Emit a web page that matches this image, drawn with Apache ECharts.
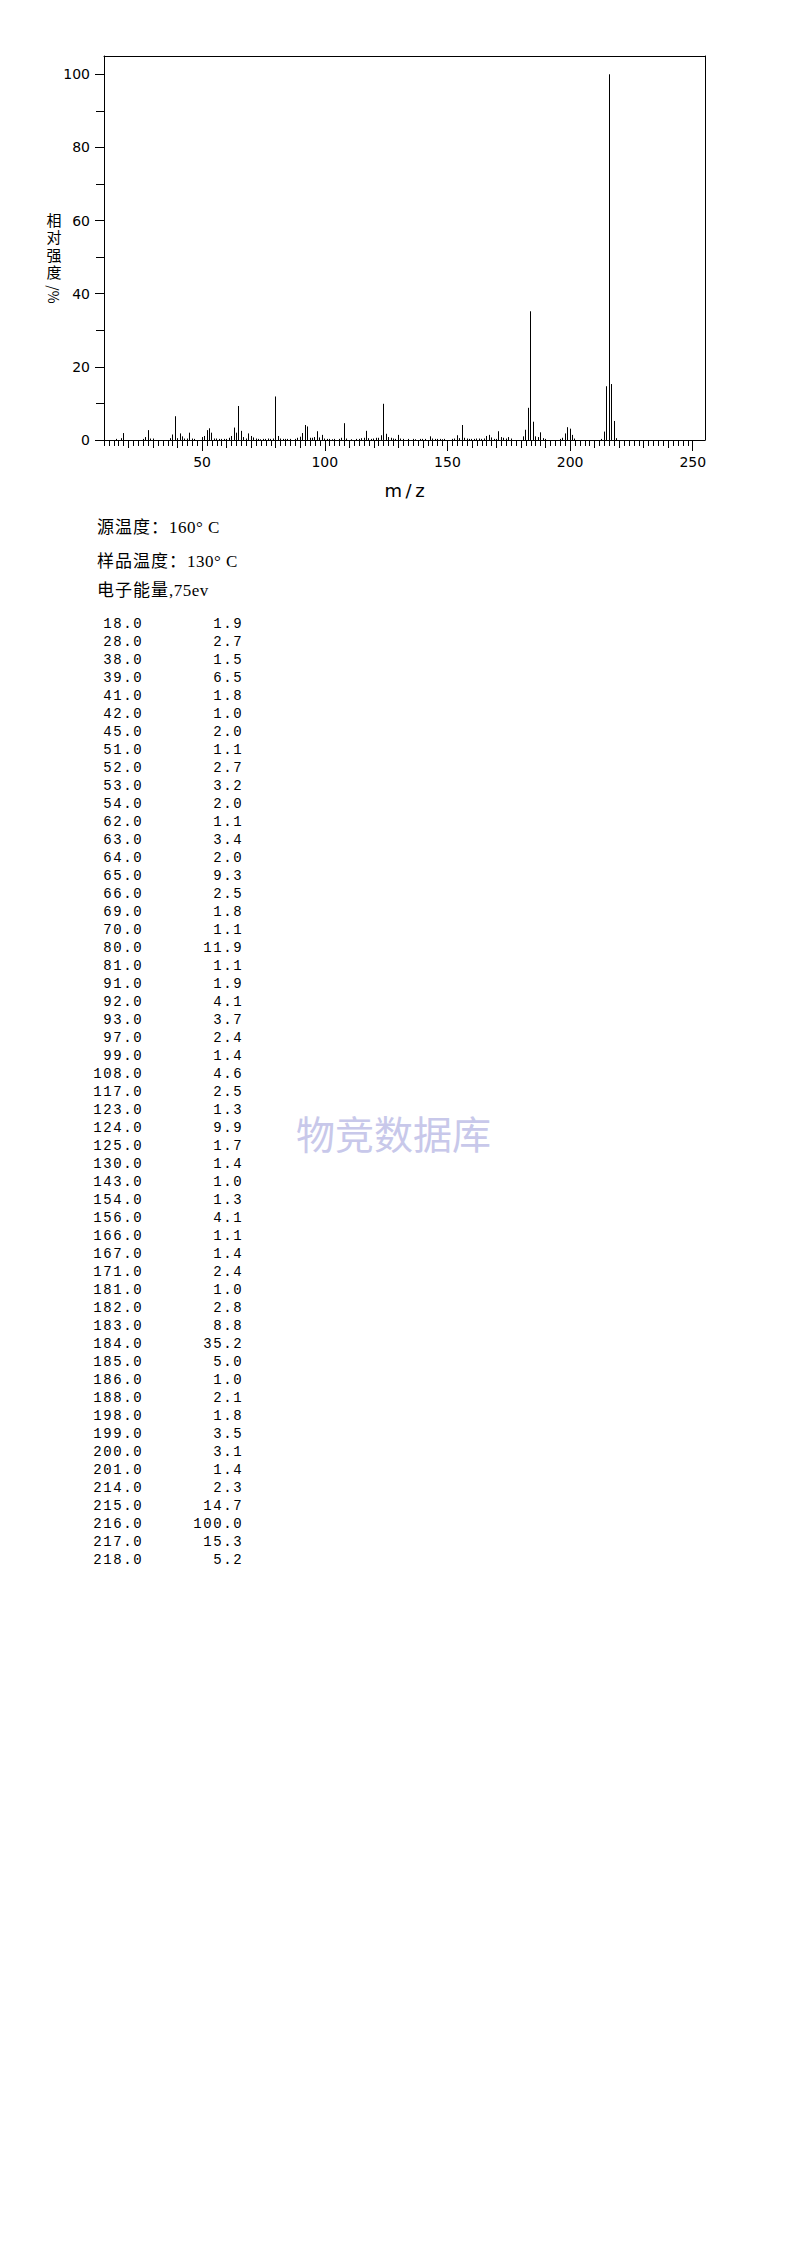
<!DOCTYPE html>
<html>
<head>
<meta charset="utf-8">
<script src="https://cdn.jsdelivr.net/npm/echarts@6/dist/echarts.min.js"></script>
<style>
html,body{margin:0;padding:0;background:#fff;}
body{width:794px;height:2268px;position:relative;overflow:hidden;}
#chart{position:absolute;left:0;top:0;width:794px;height:520px;}
.hdr{position:absolute;left:97px;font-family:"Noto Sans CJK SC";font-size:17px;line-height:20px;letter-spacing:1px;color:#000;white-space:nowrap;}
.hdr .l{font-family:"Liberation Serif";letter-spacing:0.5px;}
.cell{position:absolute;font-family:"Liberation Mono";font-size:14px;line-height:18px;letter-spacing:1.6px;text-align:right;color:#000;white-space:pre;width:80px;}
#wm{position:absolute;left:296px;top:1113px;font-family:"Noto Sans CJK SC";font-size:39px;line-height:39px;color:#c8c8ea;white-space:nowrap;}
</style>
</head>
<body>
<div id="chart"></div>
<div class="hdr" style="top:516px">源温度：<span class="l">160° C</span></div>
<div class="hdr" style="top:550px">样品温度：<span class="l">130° C</span></div>
<div class="hdr" style="top:579px">电子能量<span class="l">,75ev</span></div>
<div id="table"></div>
<div id="wm">物竞数据库</div>
<script>
// Listed peaks (m/z, relative intensity %)
var tableMz = [18,28,38,39,41,42,45,51,52,53,54,62,63,64,65,66,69,70,80,81,91,92,93,97,99,108,117,123,124,125,130,143,154,156,166,167,171,181,182,183,184,185,186,188,198,199,200,201,214,215,216,217,218];
var tableInt = [1.9,2.7,1.5,6.5,1.8,1.0,2.0,1.1,2.7,3.2,2.0,1.1,3.4,2.0,9.3,2.5,1.8,1.1,11.9,1.1,1.9,4.1,3.7,2.4,1.4,4.6,2.5,1.3,9.9,1.7,1.4,1.0,1.3,4.1,1.1,1.4,2.4,1.0,2.8,8.8,35.2,5.0,1.0,2.1,1.8,3.5,3.1,1.4,2.3,14.7,100.0,15.3,5.2];
// Small peaks (< 1 %)
var smallMz = [15,17,26,27,29,30,37,40,43,44,46,47,50,55,56,57,58,59,60,61,67,68,71,72,73,74,75,76,77,78,79,82,83,84,85,86,88,89,90,94,95,96,98,100,101,102,103,104,106,107,109,111,113,114,115,116,118,119,120,121,122,126,127,128,129,131,132,134,136,137,139,140,141,144,145,146,147,148,149,152,153,155,157,158,159,160,161,162,163,164,165,168,169,170,172,173,174,175,176,187,189,190,196,197,202,213,219];
var smallInt = [0.3,0.5,0.3,0.8,0.4,0.4,0.5,0.5,0.4,0.4,0.4,0.3,0.8,0.4,0.4,0.3,0.3,0.3,0.3,0.6,0.8,0.4,0.7,0.4,0.3,0.2,0.3,0.3,0.4,0.3,0.4,0.4,0.3,0.3,0.3,0.3,0.3,0.6,0.9,0.6,0.6,0.8,0.7,0.4,0.3,0.3,0.2,0.3,0.3,0.6,0.4,0.2,0.3,0.3,0.5,0.6,0.5,0.3,0.4,0.6,0.6,0.8,0.6,0.4,0.3,0.4,0.3,0.3,0.3,0.2,0.3,0.3,0.3,0.4,0.3,0.3,0.3,0.2,0.3,0.3,0.4,0.5,0.6,0.4,0.3,0.3,0.3,0.4,0.4,0.3,0.4,0.7,0.3,0.3,0.8,0.6,0.4,0.8,0.4,0.8,0.5,0.3,0.3,0.6,0.4,0.3,0.5];
// Axis ticks / labels
var xLabelTicks = [50,100,150,200,250];
var xMidTicks = [20,30,40,60,70,80,90,110,120,130,140,160,170,180,190,210,220,230,240];
var yLabelTicks = [0,20,40,60,80,100];
var yMinorTicks = [10,30,50,70,90];
var yTitleChars = ['相','对','强','度'];
var X_MIN = 10, X_MAX = 255, Y_MIN = 0, Y_MAX = 105;

var xMinorTicks = [];
for (var t = 10; t <= 250; t += 2) xMinorTicks.push(t);

// Table text
(function(){
  var tb = document.getElementById('table');
  for (var i = 0; i < tableMz.length; i++) {
    var top = 614.7 + 18 * i;
    var a = document.createElement('div');
    a.className = 'cell';
    a.style.left = (143.3 - 80) + 'px';
    a.style.top = top + 'px';
    a.textContent = tableMz[i].toFixed(1);
    var b = document.createElement('div');
    b.className = 'cell';
    b.style.left = (243.3 - 80) + 'px';
    b.style.top = top + 'px';
    b.textContent = tableInt[i].toFixed(1);
    tb.appendChild(a); tb.appendChild(b);
  }
})();

var allData = tableMz.map(function(m, i){ return [m, tableInt[i]]; })
  .concat(smallMz.map(function(m, i){ return [m, smallInt[i]]; }));

var chart = echarts.init(document.getElementById('chart'), null, {renderer: 'svg'});
var lab = {fontFamily: 'DejaVu Sans', fontSize: 14, color: '#000'};
var blackLine = {show: true, onZero: false, lineStyle: {color: '#000', width: 1}};
function baseX(extra){
  return Object.assign({type: 'value', min: X_MIN, max: X_MAX, gridIndex: 0, position: 'bottom',
    splitLine: {show: false}, axisLabel: {show: false}, axisTick: {show: false}, axisLine: {show: false}}, extra);
}
function baseY(extra){
  return Object.assign({type: 'value', min: Y_MIN, max: Y_MAX, gridIndex: 0, position: 'left',
    splitLine: {show: false}, axisLabel: {show: false}, axisTick: {show: false}, axisLine: {show: false}}, extra);
}
var graphics = yTitleChars.map(function(ch, i){
  return {type: 'text', x: 54, y: 219 + 17.5 * i, style: {text: ch, font: '15px "Noto Sans CJK SC"',
    fill: '#000', align: 'center', textAlign: 'center', verticalAlign: 'middle', textVerticalAlign: 'middle'}};
});
graphics.push({type: 'text', x: 54, y: 294.5, rotation: -Math.PI / 2, style: {text: '/%', font: '14px "Noto Sans CJK SC"',
  fill: '#000', align: 'center', textAlign: 'center', verticalAlign: 'middle', textVerticalAlign: 'middle'}});
graphics.push({type: 'text', x: 404.5, y: 490, style: {text: 'm\u2009/\u2009z', font: '18px "DejaVu Sans"',
  fill: '#000', align: 'center', textAlign: 'center', verticalAlign: 'middle', textVerticalAlign: 'middle'}});

chart.setOption({
  animation: false,
  grid: {left: 104, top: 56, width: 601, height: 384, show: false},
  xAxis: [
    baseX({axisLine: blackLine,
      axisTick: {show: true, customValues: xLabelTicks, length: 11, inside: false, lineStyle: {color: '#000'}},
      axisLabel: Object.assign({show: true, customValues: xLabelTicks, margin: 15}, lab)}),
    baseX({axisTick: {show: true, customValues: xMidTicks, length: 8, lineStyle: {color: '#000'}}}),
    baseX({axisTick: {show: true, customValues: xMinorTicks, length: 6, lineStyle: {color: '#000'}}}),
    baseX({position: 'top', axisLine: blackLine})
  ],
  yAxis: [
    baseY({axisLine: blackLine,
      axisTick: {show: true, customValues: yLabelTicks, length: 9, lineStyle: {color: '#000'}},
      axisLabel: Object.assign({show: true, customValues: yLabelTicks, margin: 14}, lab)}),
    baseY({axisTick: {show: true, customValues: yMinorTicks, length: 8, lineStyle: {color: '#000'}}}),
    baseY({position: 'right', axisLine: blackLine})
  ],
  graphic: graphics,
  series: [{
    type: 'custom',
    xAxisIndex: 0, yAxisIndex: 0,
    data: allData,
    renderItem: function(params, api){
      var topPt = api.coord([api.value(0), api.value(1)]);
      var basePt = api.coord([api.value(0), 0]);
      var x = Math.round(topPt[0] - 0.5) + 0.5;
      return {type: 'line', shape: {x1: x, y1: basePt[1], x2: x, y2: topPt[1]},
        style: {stroke: '#000', lineWidth: 1}};
    }
  }]
});
</script>
</body>
</html>
